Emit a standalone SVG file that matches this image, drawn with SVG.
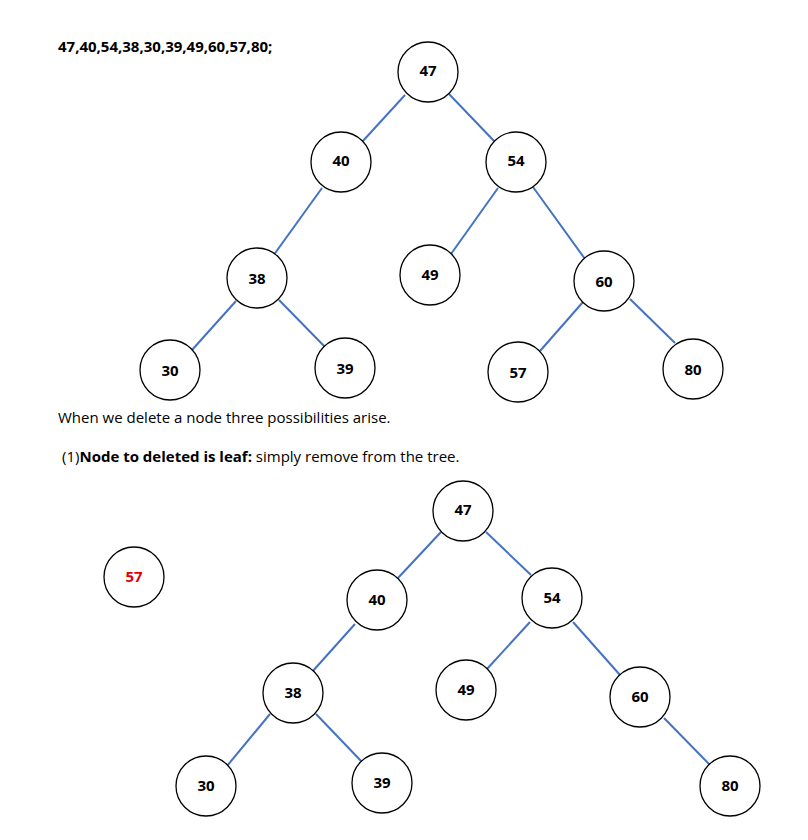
<svg xmlns="http://www.w3.org/2000/svg" width="808" height="840" viewBox="0 0 808 840">
<style>
.n circle{fill:#fff;stroke:#000;stroke-width:1.3}
.n text{font-family:"Open Sans","Liberation Sans",sans-serif;font-size:15px;font-weight:bold;text-anchor:middle;fill:#000}
.c line{stroke:#4472C4;stroke-width:2}
.t{font-family:"Open Sans","Liberation Sans",sans-serif;font-size:15px;fill:#000}
</style>
<rect width="808" height="840" fill="#fff"/>
<text class="t" x="58" y="52" font-weight="bold">47,40,54,38,30,39,49,60,57,80;</text>
<text class="t" x="58" y="423">When we delete a node three possibilities arise.</text>
<text class="t" x="62" y="462">(1)<tspan font-weight="bold">Node to deleted is leaf:</tspan> simply remove from the tree.</text>
<g class="c">
<line x1="405" y1="95" x2="362" y2="142"/>
<line x1="449" y1="94" x2="495" y2="142"/>
<line x1="322" y1="188" x2="273" y2="256"/>
<line x1="498" y1="188" x2="451" y2="254"/>
<line x1="533" y1="187" x2="585" y2="259"/>
<line x1="236" y1="301" x2="192" y2="350"/>
<line x1="279" y1="300" x2="327" y2="349"/>
<line x1="583" y1="302" x2="540" y2="351"/>
<line x1="630" y1="299" x2="675" y2="343"/>
<line x1="441" y1="532" x2="398" y2="578"/>
<line x1="486" y1="532" x2="531" y2="575"/>
<line x1="355" y1="624" x2="312" y2="672"/>
<line x1="530" y1="622" x2="487" y2="669"/>
<line x1="573" y1="622" x2="620" y2="675"/>
<line x1="270" y1="714" x2="227" y2="766"/>
<line x1="316" y1="714" x2="362" y2="762"/>
<line x1="664" y1="718" x2="710" y2="765"/>
</g>
<g class="n" id="a47"><circle cx="428" cy="72" r="30"/><text x="428" y="76">47</text></g>
<g class="n" id="a40"><circle cx="341" cy="162" r="30"/><text x="341" y="166">40</text></g>
<g class="n" id="a54"><circle cx="516" cy="162" r="30"/><text x="516" y="166">54</text></g>
<g class="n" id="a38"><circle cx="257" cy="278" r="30"/><text x="257" y="284" font-weight="normal">38</text></g>
<g class="n" id="a49"><circle cx="430" cy="275" r="30"/><text x="430" y="280">49</text></g>
<g class="n" id="a60"><circle cx="604" cy="281" r="30"/><text x="604" y="287">60</text></g>
<g class="n" id="a30"><circle cx="170" cy="370" r="30"/><text x="170" y="376">30</text></g>
<g class="n" id="a39"><circle cx="345" cy="368" r="30"/><text x="345" y="374">39</text></g>
<g class="n" id="a57"><circle cx="518" cy="372" r="30"/><text x="518" y="378">57</text></g>
<g class="n" id="a80"><circle cx="693" cy="369" r="30"/><text x="693" y="375">80</text></g>
<g class="n" id="b57"><circle cx="134" cy="577" r="30"/><text x="134" y="582" fill="#E00000" style="fill:#E00000">57</text></g>
<g class="n" id="b47"><circle cx="463" cy="511" r="30"/><text x="463" y="515">47</text></g>
<g class="n" id="b40"><circle cx="377" cy="600" r="30"/><text x="377" y="605">40</text></g>
<g class="n" id="b54"><circle cx="552" cy="598" r="30"/><text x="552" y="603">54</text></g>
<g class="n" id="b38"><circle cx="293" cy="693" r="30"/><text x="293" y="698">38</text></g>
<g class="n" id="b49"><circle cx="466" cy="690" r="30"/><text x="466" y="695">49</text></g>
<g class="n" id="b60"><circle cx="640" cy="697" r="30"/><text x="640" y="702">60</text></g>
<g class="n" id="b30"><circle cx="206" cy="786" r="30"/><text x="206" y="791">30</text></g>
<g class="n" id="b39"><circle cx="382" cy="783" r="30"/><text x="382" y="788">39</text></g>
<g class="n" id="b80"><circle cx="730" cy="786" r="30"/><text x="730" y="791">80</text></g>
</svg>
